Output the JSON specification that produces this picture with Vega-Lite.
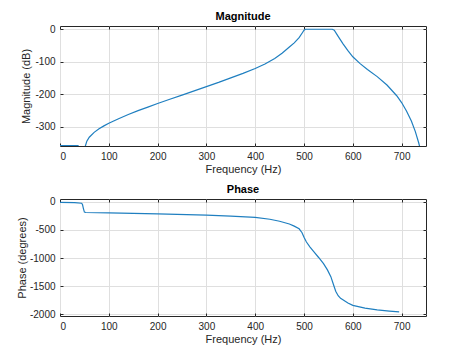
{
  "$schema": "https://vega.github.io/schema/vega-lite/v6.json",
  "background": "white",
  "padding": {"left": 15, "top": 10, "right": 5, "bottom": 5},
  "config": {
    "font": "Liberation Sans",
    "view": {"stroke": "#262626", "strokeWidth": 1},
    "axis": {
      "labelFont": "Liberation Sans",
      "labelFontSize": 10,
      "labelColor": "#262626",
      "labelExpr": "'' + datum.value",
      "titleFont": "Liberation Sans",
      "titleFontSize": 11,
      "titleFontWeight": "normal",
      "titleColor": "#262626",
      "gridColor": "#dfdfdf",
      "gridWidth": 1,
      "domain": false,
      "ticks": true,
      "tickSize": -3,
      "tickColor": "#262626",
      "labelPadding": 8
    },
    "title": {"font": "Liberation Sans", "fontSize": 11, "fontWeight": "bold", "color": "#000000", "offset": 2}
  },
  "datasets": {
    "mag": [
      {"f": 0, "db": -359}, {"f": 37, "db": -359}, {"f": 44, "db": -420}, {"f": 50, "db": -380},
      {"f": 52, "db": -360}, {"f": 55, "db": -345}, {"f": 60, "db": -333}, {"f": 70, "db": -318},
      {"f": 80, "db": -307}, {"f": 90, "db": -298}, {"f": 100, "db": -290}, {"f": 120, "db": -276},
      {"f": 140, "db": -263}, {"f": 160, "db": -251}, {"f": 180, "db": -240}, {"f": 200, "db": -229},
      {"f": 225, "db": -216}, {"f": 250, "db": -203}, {"f": 275, "db": -190}, {"f": 300, "db": -177},
      {"f": 325, "db": -164}, {"f": 350, "db": -150}, {"f": 375, "db": -136}, {"f": 400, "db": -121},
      {"f": 420, "db": -107}, {"f": 440, "db": -90}, {"f": 455, "db": -74}, {"f": 470, "db": -55},
      {"f": 480, "db": -42}, {"f": 490, "db": -26}, {"f": 497, "db": -10}, {"f": 500, "db": -3},
      {"f": 503, "db": 0}, {"f": 558, "db": 0}, {"f": 562, "db": -3}, {"f": 570, "db": -22},
      {"f": 580, "db": -45}, {"f": 590, "db": -66}, {"f": 600, "db": -85}, {"f": 615, "db": -106},
      {"f": 630, "db": -124}, {"f": 650, "db": -146}, {"f": 670, "db": -172}, {"f": 690, "db": -205},
      {"f": 700, "db": -226}, {"f": 710, "db": -252}, {"f": 720, "db": -283}, {"f": 728, "db": -315},
      {"f": 735, "db": -350}, {"f": 740, "db": -380}
    ],
    "phase": [
      {"f": 0, "deg": -10}, {"f": 30, "deg": -15}, {"f": 44, "deg": -25}, {"f": 46, "deg": -45},
      {"f": 48, "deg": -120}, {"f": 50, "deg": -182}, {"f": 53, "deg": -190}, {"f": 100, "deg": -195},
      {"f": 200, "deg": -213}, {"f": 300, "deg": -237}, {"f": 350, "deg": -254}, {"f": 400, "deg": -278},
      {"f": 430, "deg": -310}, {"f": 450, "deg": -345}, {"f": 470, "deg": -395}, {"f": 480, "deg": -432},
      {"f": 490, "deg": -480}, {"f": 496, "deg": -550}, {"f": 500, "deg": -630}, {"f": 505, "deg": -715},
      {"f": 512, "deg": -800}, {"f": 520, "deg": -885}, {"f": 530, "deg": -990}, {"f": 540, "deg": -1100},
      {"f": 548, "deg": -1210}, {"f": 555, "deg": -1330}, {"f": 560, "deg": -1460}, {"f": 565, "deg": -1590},
      {"f": 570, "deg": -1670}, {"f": 575, "deg": -1716}, {"f": 590, "deg": -1800}, {"f": 600, "deg": -1840},
      {"f": 625, "deg": -1890}, {"f": 650, "deg": -1920}, {"f": 675, "deg": -1942}, {"f": 695, "deg": -1958}
    ]
  },
  "spacing": 8,
  "vconcat": [
    {
      "title": "Magnitude",
      "width": 366,
      "height": 120,
      "data": {"name": "mag"},
      "layer": [
        {
          "mark": {"type": "line", "clip": true, "color": "#1f7fc0", "strokeWidth": 1.2},
          "encoding": {
            "x": {"field": "f", "type": "quantitative", "scale": {"domain": [0, 750], "nice": false},
                  "axis": {"title": "Frequency (Hz)", "values": [0, 100, 200, 300, 400, 500, 600, 700], "titlePadding": 2}},
            "y": {"field": "db", "type": "quantitative", "scale": {"domain": [-360, 10], "nice": false, "zero": false},
                  "axis": {"title": "Magnitude (dB)", "values": [-300, -200, -100, 0], "titlePadding": 3}}
          }
        },
        {
          "mark": {"type": "line", "clip": true, "opacity": 0},
          "encoding": {
            "x": {"field": "f", "type": "quantitative",
                  "axis": {"orient": "top", "title": null, "labels": false, "grid": false, "values": [0, 100, 200, 300, 400, 500, 600, 700]}},
            "y": {"field": "db", "type": "quantitative",
                  "axis": {"orient": "right", "title": null, "labels": false, "grid": false, "values": [-300, -200, -100, 0]}}
          }
        }
      ],
      "resolve": {"axis": {"x": "independent", "y": "independent"}}
    },
    {
      "title": "Phase",
      "width": 366,
      "height": 117,
      "data": {"name": "phase"},
      "layer": [
        {
          "mark": {"type": "line", "clip": true, "color": "#1f7fc0", "strokeWidth": 1.2},
          "encoding": {
            "x": {"field": "f", "type": "quantitative", "scale": {"domain": [0, 750], "nice": false},
                  "axis": {"title": "Frequency (Hz)", "values": [0, 100, 200, 300, 400, 500, 600, 700], "titlePadding": 2}},
            "y": {"field": "deg", "type": "quantitative", "scale": {"domain": [-2030, 50], "nice": false, "zero": false},
                  "axis": {"title": "Phase (degrees)", "values": [-2000, -1500, -1000, -500, 0], "titlePadding": 2}}
          }
        },
        {
          "mark": {"type": "line", "clip": true, "opacity": 0},
          "encoding": {
            "x": {"field": "f", "type": "quantitative",
                  "axis": {"orient": "top", "title": null, "labels": false, "grid": false, "values": [0, 100, 200, 300, 400, 500, 600, 700]}},
            "y": {"field": "deg", "type": "quantitative",
                  "axis": {"orient": "right", "title": null, "labels": false, "grid": false, "values": [-2000, -1500, -1000, -500, 0]}}
          }
        }
      ],
      "resolve": {"axis": {"x": "independent", "y": "independent"}}
    }
  ]
}
